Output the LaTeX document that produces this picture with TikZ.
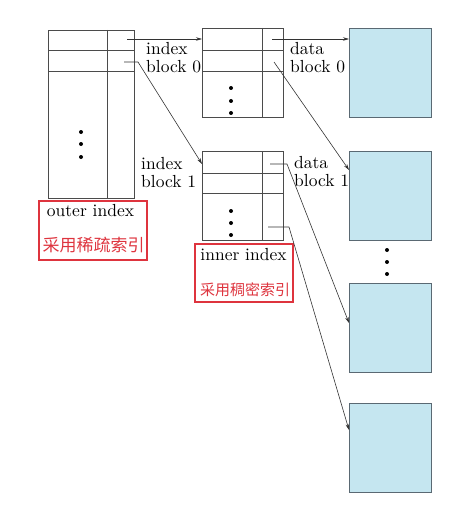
\documentclass[tikz,border=0pt]{standalone}
\usepackage{fontspec}
\newfontfamily\cjk{Noto Sans CJK SC}
\newfontfamily\lmten{lmroman10-regular.otf}
\usetikzlibrary{arrows.meta,calc}
\definecolor{datafill}{RGB}{197,230,240}
\definecolor{databorder}{RGB}{90,105,115}
\definecolor{redbox}{RGB}{222,52,62}
\definecolor{linegray}{RGB}{75,75,75}
\begin{document}
\begin{tikzpicture}[x=1pt,y=-1pt,
  idxbox/.style={draw=linegray, line width=0.7pt, inner sep=0pt, outer sep=0pt, anchor=north west},
  datbox/.style={draw=databorder, fill=datafill, line width=0.8pt, inner sep=0pt, outer sep=0pt,
    minimum width=82pt, minimum height=89pt, anchor=north west},
  redframe/.style={draw=redbox, line width=1.1pt, inner sep=0pt, outer sep=0pt, anchor=north west},
  lbl/.style={inner sep=0pt, align=left, anchor=west, font=\lmten\fontsize{17.5}{18}\selectfont},
  captext/.style={inner sep=0pt, font=\lmten\fontsize{17.5}{18}\selectfont},
  cntext/.style={inner sep=0pt, text=redbox},
  arr/.style={draw=black!80, line width=0.6pt, -{Stealth[length=6pt,width=3.5pt]}},
  sepline/.style={draw=linegray, line width=0.7pt}]
\useasboundingbox (0,0) rectangle (474,516);

% outer index
\node[idxbox, minimum width=86pt, minimum height=168pt] (outer) at (48,30) {};
\draw[sepline] ($(outer.north west)+(59,0)$) -- ($(outer.south west)+(59,0)$);
\draw[sepline] ($(outer.north west)+(0,20)$) -- ($(outer.north east)+(0,20)$);
\draw[sepline] ($(outer.north west)+(0,41)$) -- ($(outer.north east)+(0,41)$);
\foreach \y in {132,144,157} \fill (81,\y) circle (2pt);

% index block 0
\node[idxbox, minimum width=81pt, minimum height=89pt] (ib0) at (202,28) {};
\draw[sepline] ($(ib0.north west)+(60,0)$) -- ($(ib0.south west)+(60,0)$);
\draw[sepline] ($(ib0.north west)+(0,22)$) -- ($(ib0.north east)+(0,22)$);
\draw[sepline] ($(ib0.north west)+(0,43)$) -- ($(ib0.north east)+(0,43)$);
\foreach \y in {88,101,113} \fill (231,\y) circle (2pt);

% index block 1
\node[idxbox, minimum width=81pt, minimum height=89pt] (ib1) at (202,151) {};
\draw[sepline] ($(ib1.north west)+(60,0)$) -- ($(ib1.south west)+(60,0)$);
\draw[sepline] ($(ib1.north west)+(0,22)$) -- ($(ib1.north east)+(0,22)$);
\draw[sepline] ($(ib1.north west)+(0,42)$) -- ($(ib1.north east)+(0,42)$);
\foreach \y in {211,223,235} \fill (231,\y) circle (2pt);

% data blocks
\node[datbox] (db0) at (349,28) {};
\node[datbox] (db1) at (349,151) {};
\node[datbox] (db2) at (349,283) {};
\node[datbox] (db3) at (349,403) {};
\foreach \y in {250,262,274} \fill (387,\y) circle (2pt);

% labels
\node[lbl] (lib0) at (146,58) {index\\block 0};
\node[lbl] (lib1) at (141,173) {index\\block 1};
\node[lbl] (ldb0) at (290,58) {data\\block 0};
\node[lbl] (ldb1) at (294,172) {data\\block 1};

% red caption boxes
\node[redframe, minimum width=108pt, minimum height=59pt] (ocap) at (39,201) {};
\node[captext] (otxt) at (90.5,211) {outer index};
\node[cntext, font=\cjk\fontsize{17}{17}\selectfont] (ocn) at (93.5,245) {采用稀疏索引};

\node[redframe, minimum width=98pt, minimum height=58pt] (icap) at (195,244) {};
\node[captext] (itxt) at (243.5,255) {inner index};
\node[cntext, font=\cjk\fontsize{15}{15}\selectfont] (icn) at (245,290) {采用稠密索引};

% pointers
\coordinate (o1) at (127,39);
\coordinate (o2) at (124,62);
\coordinate (o2b) at (138,62);
\coordinate (a01) at (272,39);
\coordinate (a02) at (274,62);
\coordinate (a11) at (270,164);
\coordinate (a11b) at (287,164);
\coordinate (a12) at (268,227);
\coordinate (a12b) at (289,227);

\draw[arr] (o1) -- (ib0.west |- o1);
\draw[arr] (o2) -- (o2b) -- ($(ib1.north west)+(0,13)$);
\draw[arr] (a01) -- (db0.west |- a01);
\draw[arr] (a02) -- ($(db1.north west)+(0,19)$);
\draw[arr] (a11) -- (a11b) -- ($(db2.north west)+(0,40)$);
\draw[arr] (a12) -- (a12b) -- ($(db3.north west)+(0,27)$);
\end{tikzpicture}
\end{document}
